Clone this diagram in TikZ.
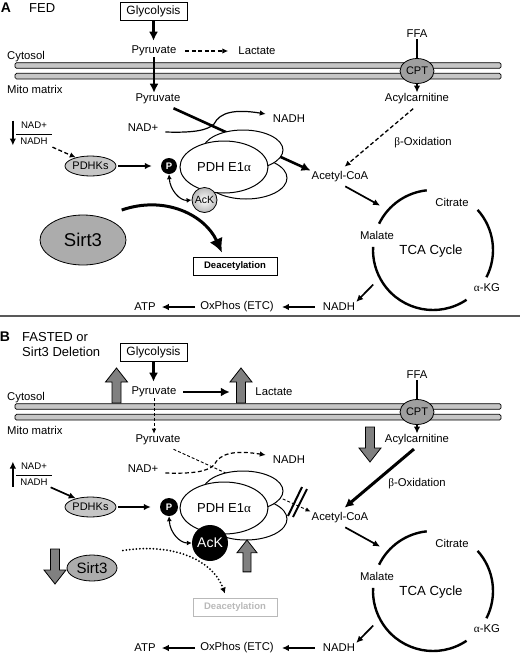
\documentclass[tikz,border=0pt]{standalone}
\usepackage{fontspec}
\setmainfont{Liberation Sans}
\newfontfamily\grk{Liberation Serif}
\usetikzlibrary{positioning, arrows.meta, shapes.geometric}

\tikzset{
    blockarrow/.pic={
        \draw[fill=black!50, line width=0.8pt] (0,0) -- (-11,-14) -- (-4.5,-14) -- (-4.5,-35) -- (4.5,-35) -- (4.5,-14) -- (11,-14) -- cycle;
    }
}

\begin{document}
\begin{tikzpicture}[x=1pt, y=1pt,
    font=\fontsize{11.3}{13}\selectfont,
    every node/.style={inner sep=1pt},
    glybox/.style={draw, line width=0.8pt, minimum width=67pt, minimum height=18pt, font=\fontsize{12}{13}\selectfont},
    membrane/.style={draw=black, fill=gray!45, line width=0.7pt, rounded corners=1.5pt},
    enzyme/.style={ellipse, draw, line width=0.8pt, fill=gray!45, inner sep=0pt},
    lobe/.style={ellipse, draw, line width=1pt, fill=white, inner sep=0pt},
    pdot/.style={circle, fill=black, minimum size=16pt, inner sep=0pt, text=white, font=\bfseries\fontsize{9.5}{10}\selectfont},
    arr/.style={-{Latex[length=7pt,width=6.5pt]}, line width=1.7pt},
    bigarr/.style={-{Latex[length=9pt,width=9pt]}, line width=2.6pt},
    dasharr/.style={-{Latex[length=6pt,width=5.5pt]}, line width=1.3pt, dash pattern=on 4pt off 2.5pt},
    thindash/.style={-{Latex[length=5pt,width=4.5pt]}, line width=0.9pt, dash pattern=on 3pt off 2pt},
    curvarr/.style={-{Latex[length=6pt,width=5.5pt]}, line width=1.2pt},
    dblarr/.style={{Latex[length=5pt,width=5pt]}-{Latex[length=5pt,width=5pt]}, line width=1.1pt},
    cyc/.style={line width=2.4pt},
    deac/.style={draw, line width=0.9pt, minimum width=84pt, minimum height=18pt, font=\bfseries\fontsize{9.5}{10}\selectfont},
    ratio/.style={font=\fontsize{9.6}{10}\selectfont},
    panel/.style={font=\fontsize{13}{15}\selectfont}
]
\useasboundingbox (0,0) rectangle (520,-654);

% ---------- Panel A: fed ----------
\node[font=\bfseries\fontsize{14}{14}\selectfont] (labA) at (6,-8) {A};
\node[panel, anchor=west] (fedA) at (28,-8) {FED};
\node[glybox] (glyA) at (153.5,-11) {Glycolysis};
\node (pyrA) at (154,-51) {Pyruvate};
\node (lacA) at (257,-51) {Lactate};

% membrane
\draw[membrane] (15,-62.7) rectangle (501,-68.3);
\draw[membrane] (15,-73.3) rectangle (501,-79);
\node[anchor=west] (cytA) at (6,-57) {Cytosol};
\node[anchor=west] (mitoA) at (6,-89) {Mito matrix};

\node (pyrmA) at (158,-99) {Pyruvate};
\node[enzyme, fill=gray!75, minimum width=34pt, minimum height=25pt, font=\fontsize{11}{12}\selectfont] (cptA) at (417,-71) {CPT};
\node (ffaA) at (417,-34) {FFA};
\node (acylA) at (417,-99) {Acylcarnitine};

\draw[bigarr, shorten >=4pt] (glyA.south) -- (glyA.south |- pyrA.north);
\draw[dasharr, shorten <=8pt, shorten >=9pt] (pyrA) -- (lacA);
\draw[bigarr] (pyrA.south) -- (pyrA.south |- pyrmA.north);
\draw[line width=2.6pt] (ffaA) -- (cptA);
\draw[arr, line width=1.4pt] (cptA) -- (acylA);

% NAD+/NADH ratio
\node[ratio] (nadrA) at (34,-125) {NAD+};
\node[ratio] (nadhrA) at (34,-141) {NADH};
\draw[line width=0.6pt] ([xshift=-3pt,yshift=2pt]nadhrA.north west) -- ([xshift=3pt,yshift=2pt]nadhrA.north east);
\draw[arr, line width=1.4pt] ([xshift=-7pt]nadrA.north west) -- ([xshift=-7pt]nadrA.north west |- nadhrA.south);

\node[enzyme, minimum width=45pt, minimum height=20pt, font=\fontsize{11}{12}\selectfont] (pdhkA) at (90.5,-166) {PDHKs};
\node[pdot] (pA) at (169,-166) {P};
\draw[dasharr, shorten <=4pt] (nadhrA.south east) -- (pdhkA.150);
\draw[arr, shorten <=2pt, shorten >=9pt] (pdhkA) -- (pA);

% PDH complex
\node (acetA) at (340,-177) {Acetyl-CoA};
\draw[bigarr] ([xshift=-8pt,yshift=-3pt]pyrmA.south east) -- (acetA.north west);
\node[lobe, minimum width=82pt, minimum height=42pt] (lowA) at (246,-178) {};
\node[lobe, minimum width=80pt, minimum height=40pt] (upA) at (243,-150) {};
\node[lobe, minimum width=88pt, minimum height=52pt, font=\fontsize{13}{14}\selectfont] (pdhA) at (224,-167) {PDH E1{\grk α}};

\node (nadA) at (143,-128) {NAD+};
\node (nadhA) at (289,-119) {NADH};
\draw[curvarr] ([xshift=6pt,yshift=-4pt]nadA.east) .. controls (195,-133) and (208,-130) .. (214,-124)
    .. controls (220,-112) and (235,-109) .. ([xshift=-6pt,yshift=5pt]nadhA.west);

\node[circle, draw, line width=0.8pt, minimum size=25pt, inner sep=0pt, inner color=white, outer color=gray!55, font=\fontsize{10.5}{11}\selectfont] (ackA) at (204.5,-200) {AcK};
\draw[dblarr] (pA.south) .. controls (170,-190) and (180,-201) .. (ackA.west);

% beta-oxidation and TCA
\node (betaA) at (423,-143) {{\grk β}-Oxidation};
\draw[dasharr, shorten <=5pt, shorten >=6pt] (acylA.south) -- (acetA.north);

\coordinate (tcacA) at (433,-250);
\draw[cyc] ([shift={(154:60)}]tcacA) arc[start angle=154, end angle=96, radius=60];
\draw[cyc] ([shift={(42:60)}]tcacA) arc[start angle=42, end angle=-27, radius=60];
\draw[cyc] ([shift={(-56:60)}]tcacA) arc[start angle=-56, end angle=-183, radius=60];
\node[font=\fontsize{13.2}{14}\selectfont] (tcaA) at (431,-251) {TCA Cycle};
\node (citA) at (452,-202) {Citrate};
\node (malA) at (377,-235) {Malate};
\node (akgA) at (487,-288) {{\grk α}-KG};
\draw[arr, shorten <=6pt] (acetA.south) -- ([shift={(140:69)}]tcacA);

\node (nadhtA) at (339,-307) {NADH};
\node (oxA) at (237,-307) {OxPhos (ETC)};
\node (atpA) at (145,-307) {ATP};
\draw[arr] ([shift={(210:69)}]tcacA) -- (nadhtA.north east);
\draw[arr, shorten <=7pt, shorten >=7pt] (nadhtA) -- (oxA);
\draw[arr, shorten <=4pt, shorten >=5pt] (oxA) -- (atpA);

% Sirt3
\node[enzyme, fill=gray!65, minimum width=86pt, minimum height=50pt, font=\fontsize{18.5}{20}\selectfont] (sirtA) at (83,-240) {Sirt3};
\node[deac] (deacA) at (235,-266) {Deacetylation};
\draw[-{Latex[length=14pt,width=14pt]}, line width=3pt] ([xshift=8pt,yshift=12pt]sirtA.north east) .. controls (165,-195) and (205,-215) .. ([xshift=-13pt,yshift=4pt]deacA.north);

\draw[line width=1.3pt, gray!70!black] (0,-316) -- (520,-316);

% ---------- Panel B: fasted / Sirt3 deletion ----------
\node[font=\bfseries\fontsize{14}{14}\selectfont] (labB) at (5,-337) {B};
\node[panel, anchor=west, align=left] (fastB) at (21,-344.5) {FASTED or\\Sirt3 Deletion};
\node[glybox] (glyB) at (153.5,-352) {Glycolysis};
\node (pyrB) at (154,-392) {Pyruvate};
\node (lacB) at (274,-392) {Lactate};
\pic at (116.5,-368) {blockarrow};
\pic at (241,-368) {blockarrow};

% membrane
\draw[membrane] (15,-403.7) rectangle (501,-409.3);
\draw[membrane] (15,-414.3) rectangle (501,-420);
\node[anchor=west] (cytB) at (6,-398) {Cytosol};
\node[anchor=west] (mitoB) at (6,-430) {Mito matrix};

\node (pyrmB) at (158,-440) {Pyruvate};
\node[enzyme, fill=gray!75, minimum width=34pt, minimum height=25pt, font=\fontsize{11}{12}\selectfont] (cptB) at (417,-412) {CPT};
\node (ffaB) at (417,-375) {FFA};
\node (acylB) at (417,-440) {Acylcarnitine};
\pic[rotate=180] at (370,-462) {blockarrow};

\draw[bigarr, shorten >=4pt] (glyB.south) -- (glyB.south |- pyrB.north);
\draw[bigarr, shorten <=6pt, shorten >=24.5pt] (pyrB) -- (lacB);
\draw[thindash] (pyrB.south) -- (pyrB.south |- pyrmB.north);
\draw[line width=2.6pt] (ffaB) -- (cptB);
\draw[arr, line width=1.4pt] (cptB) -- (acylB);

% NAD+/NADH ratio
\node[ratio] (nadrB) at (34,-466) {NAD+};
\node[ratio] (nadhrB) at (34,-482) {NADH};
\draw[line width=0.6pt] ([xshift=-3pt,yshift=2pt]nadhrB.north west) -- ([xshift=3pt,yshift=2pt]nadhrB.north east);
\draw[arr, line width=1.4pt] ([xshift=-7pt]nadrB.north west |- nadhrB.south) -- ([xshift=-7pt]nadrB.north west);

\node[enzyme, minimum width=45pt, minimum height=20pt, font=\fontsize{11}{12}\selectfont] (pdhkB) at (90.5,-507) {PDHKs};
\node[pdot, minimum size=18pt] (pB) at (169,-507) {P};
\draw[arr, shorten <=2pt] (nadhrB.south east) -- (pdhkB.150);
\draw[arr, shorten <=2pt, shorten >=9pt] (pdhkB) -- (pB);

% PDH complex
\node (acetB) at (340,-518) {Acetyl-CoA};
\draw[thindash] ([xshift=-8pt,yshift=-3pt]pyrmB.south east) -- (acetB.north west);
\node[lobe, minimum width=82pt, minimum height=42pt] (lowB) at (246,-519) {};
\node[lobe, minimum width=80pt, minimum height=40pt] (upB) at (243,-491) {};
\node[lobe, minimum width=88pt, minimum height=52pt, font=\fontsize{13}{14}\selectfont] (pdhB) at (224,-508) {PDH E1{\grk α}};

\node (nadB) at (143,-469) {NAD+};
\node (nadhB) at (289,-460) {NADH};
\draw[curvarr, dash pattern=on 4pt off 2.5pt] ([xshift=6pt,yshift=-4pt]nadB.east) .. controls (195,-474) and (208,-471) .. (214,-465)
    .. controls (220,-453) and (235,-450) .. ([xshift=-6pt,yshift=5pt]nadhB.west);

\node[circle, fill=black, minimum size=36pt, inner sep=0pt, text=white, font=\fontsize{14}{15}\selectfont] (ackB) at (210,-543) {AcK};
\draw[dblarr] (pB.south) .. controls (170,-533) and (180,-543) .. (ackB.west);
\pic[scale=0.91] at (247,-540) {blockarrow};

% blocked flux to acetyl-CoA
\coordinate (blkB) at (297,-502);
\draw[line width=2pt] ([shift={(-9,-14)}]blkB) -- ([shift={(5,15)}]blkB);
\draw[line width=2pt] ([shift={(-4,-15)}]blkB) -- ([shift={(10,13)}]blkB);

% beta-oxidation and TCA
\node (betaB) at (417,-484) {{\grk β}-Oxidation};
\draw[bigarr, line width=3pt, shorten <=4pt, shorten >=6pt] (acylB.south) -- (acetB.north);

\coordinate (tcacB) at (433,-591);
\draw[cyc] ([shift={(154:60)}]tcacB) arc[start angle=154, end angle=96, radius=60];
\draw[cyc] ([shift={(42:60)}]tcacB) arc[start angle=42, end angle=-27, radius=60];
\draw[cyc] ([shift={(-56:60)}]tcacB) arc[start angle=-56, end angle=-183, radius=60];
\node[font=\fontsize{13.2}{14}\selectfont] (tcaB) at (431,-592) {TCA Cycle};
\node (citB) at (452,-543) {Citrate};
\node (malB) at (377,-576) {Malate};
\node (akgB) at (487,-629) {{\grk α}-KG};
\draw[arr, shorten <=6pt] (acetB.south) -- ([shift={(140:69)}]tcacB);

\node (nadhtB) at (339,-648) {NADH};
\node (oxB) at (237,-648) {OxPhos (ETC)};
\node (atpB) at (145,-648) {ATP};
\draw[arr] ([shift={(210:69)}]tcacB) -- (nadhtB.north east);
\draw[arr, shorten <=7pt, shorten >=7pt] (nadhtB) -- (oxB);
\draw[arr, shorten <=4pt, shorten >=5pt] (oxB) -- (atpB);

% Sirt3
\node[enzyme, fill=gray!65, minimum width=50pt, minimum height=26pt, font=\fontsize{15}{16}\selectfont] (sirtB) at (92,-568) {Sirt3};
\pic[rotate=180] at (55,-584) {blockarrow};
\node[deac, draw=gray!55, text=gray!55] (deacB) at (235,-607) {Deacetylation};
\draw[-{Latex[length=6pt,width=6pt]}, line width=2pt, line cap=round, dash pattern=on 0pt off 3.4pt] ([xshift=13pt,yshift=8pt]sirtB.north east) .. controls (170,-543) and (212,-558) .. ([xshift=-10pt,yshift=4pt]deacB.north);

\end{tikzpicture}
\end{document}
